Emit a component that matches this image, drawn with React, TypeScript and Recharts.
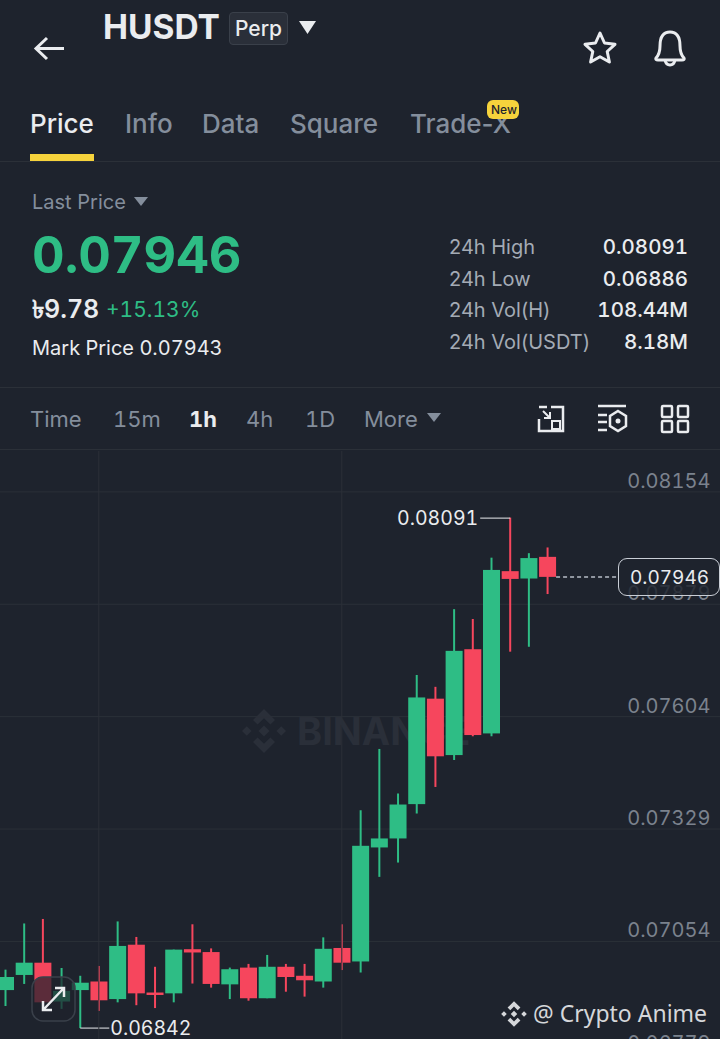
import React from "react";
import { ComposedChart, Bar, XAxis, YAxis, CartesianGrid, ReferenceLine } from "recharts";

const CANDLES = ["c0","c1","c2","c3","c4","c5","c6","c7","c8","c9","c10","c11","c12","c13","c14","c15","c16","c17","c18","c19","c20","c21","c22","c23","c24","c25","c26","c27","c28","c29"];
// empty slots to the right of the last candle
const EMPTY_SLOTS = ["e0","e1","e2","e3","e4","e5","e6","e7","e8"];

const OPENS = [0.06935,0.06972,0.07002,0.06907,0.06935,0.06956,0.06913,0.07046,0.06929,0.06927,0.07035,0.07028,0.06949,0.0699,0.06915,0.06992,0.0697,0.06956,0.07038,0.07005,0.07284,0.07306,0.0739,0.07648,0.0751,0.07769,0.07563,0.0796,0.07942,0.07995];
const CLOSES = [0.06967,0.07002,0.06905,0.06933,0.06953,0.0691,0.07043,0.06927,0.06923,0.07034,0.07027,0.0695,0.06986,0.06915,0.06992,0.06967,0.06959,0.07036,0.07002,0.07288,0.07306,0.07389,0.07651,0.07507,0.07765,0.07559,0.07963,0.07941,0.07992,0.07946];
const HIGHS = [0.06985,0.07098,0.07109,0.06989,0.0697,0.06994,0.07103,0.07065,0.06992,0.07034,0.07096,0.07037,0.0699,0.06999,0.07021,0.06999,0.06999,0.07064,0.07096,0.07375,0.07525,0.07416,0.07706,0.07677,0.07867,0.07843,0.07993,0.08091,0.08004,0.08018];
const LOWS = [0.06896,0.0695,0.06901,0.06889,0.06842,0.06884,0.06905,0.06898,0.06891,0.06905,0.06951,0.06941,0.06913,0.06909,0.06915,0.06931,0.06919,0.06941,0.06984,0.06978,0.07212,0.07247,0.07367,0.07432,0.07498,0.07556,0.07556,0.07763,0.07775,0.07904];

const PRICE_TICKS = [0.08154, 0.07879, 0.07604, 0.07329, 0.07054, 0.06779];
const PRICE_DOMAIN = [0.06737, 0.08254];
const LAST_PRICE = 0.07946;
const VERTICAL_LINES = ["c5", "c18"];

const TABS = [["Price", 30], ["Info", 125], ["Data", 202], ["Square", 290], ["Trade-X", 410]];
const INTERVALS = [["Time", 30], ["15m", 113], ["1h", 189], ["4h", 246], ["1D", 305], ["More", 364]];
const STATS = [["24h High", "0.08091", 247], ["24h Low", "0.06886", 279], ["24h Vol(H)", "108.44M", 310], ["24h Vol(USDT)", "8.18M", 342]];

const rows = [
  ...CANDLES.map((t, i) => ({ t, open: OPENS[i], close: CLOSES[i], high: HIGHS[i], low: LOWS[i] })),
  ...EMPTY_SLOTS.map((t) => ({ t })),
];

const BG = "#1e232d";
const GREEN = "#2ebd85";
const RED = "#f6465d";
const GREY = "#848e9c";
const WHITE = "#eaecef";
const GRID = "#2b3038";
const FONT = "Inter, sans-serif";

function Candle(props: any) {
  const { x, y, width, height, payload } = props;
  if (!payload || payload.high === undefined) return null;
  const { open, close, high, low } = payload;
  const color = close >= open ? GREEN : RED;
  const h = Math.abs(height);
  const perUnit = h / (high - low);
  const top = y + (high - Math.max(open, close)) * perUnit;
  const bottom = y + (high - Math.min(open, close)) * perUnit;
  const cx = x + width / 2;
  const isMax = high === Math.max(...HIGHS);
  const isMin = low === Math.min(...LOWS);
  const isLast = payload.t === CANDLES[CANDLES.length - 1];
  return (
    <g>
      <line x1={cx} x2={cx} y1={y} y2={y + h} stroke={color} strokeWidth={2} />
      <rect x={x} y={top} width={width} height={Math.max(bottom - top, 2)} fill={color} />
      {isMax && (
        <g>
          <line x1={cx - 30} x2={cx} y1={y + 0.5} y2={y + 0.5} stroke={WHITE} strokeWidth={1} />
          <text x={cx - 32} y={y + 7} textAnchor="end" fill={WHITE} fontSize={19.5} fontFamily={FONT} style={{ fontVariantNumeric: "tabular-nums" }}>{high.toFixed(5)}</text>
        </g>
      )}
      {isMin && (
        <g>
          <line x1={cx} x2={cx + 29} y1={y + h} y2={y + h} stroke={WHITE} strokeWidth={1} />
          <text x={cx + 30} y={y + h + 7} fill={WHITE} fontSize={19.5} fontFamily={FONT} style={{ fontVariantNumeric: "tabular-nums" }}>{low.toFixed(5)}</text>
        </g>
      )}
      {isLast && (
        <line x1={x + width} x2={622} y1={bottom} y2={bottom} stroke="#b7bdc6" strokeWidth={1.5} strokeDasharray="4 3" />
      )}
    </g>
  );
}

function PriceTick(props: any) {
  const { y, payload } = props;
  return (
    <text x={714.4} y={y - 4} textAnchor="end" fill="#7b828d" fontSize={20} fontFamily={FONT} style={{ fontVariantNumeric: "tabular-nums" }}>
      {payload.value.toFixed(5)}
    </text>
  );
}

function T({ x, y, right, size, color, weight, num, children }: any) {
  const style: React.CSSProperties = {
    position: "absolute",
    top: y,
    transform: "translateY(-50%)",
    fontSize: size,
    color,
    fontWeight: weight || 400,
    whiteSpace: "nowrap",
    lineHeight: 1,
    fontVariantNumeric: num ? "tabular-nums" : "normal",
  };
  if (right !== undefined) style.right = 720 - right;
  else style.left = x;
  return <span style={style}>{children}</span>;
}

function Icon({ x, y, w, h, children }: any) {
  return (
    <svg width={w} height={h} viewBox={`0 0 ${w} ${h}`} style={{ position: "absolute", left: x, top: y }}>
      {children}
    </svg>
  );
}

function Logo({ x, y, size, color }: any) {
  // the diamond mark, drawn on a 24 unit box
  return (
    <Icon x={x} y={y} w={size} h={size}>
      <g transform={`scale(${size / 24})`} fill={color}>
        <path d="M12 1 L17.5 6.5 L15.2 8.8 L12 5.6 L8.8 8.8 L6.5 6.5 Z" />
        <path d="M12 23 L17.5 17.5 L15.2 15.2 L12 18.4 L8.8 15.2 L6.5 17.5 Z" />
        <path d="M1 12 L3.4 9.6 L5.8 12 L3.4 14.4 Z" />
        <path d="M18.2 12 L20.6 9.6 L23 12 L20.6 14.4 Z" />
        <path d="M12 9.2 L14.8 12 L12 14.8 L9.2 12 Z" />
      </g>
    </Icon>
  );
}

function Header() {
  return (
    <>
      <Icon x={30} y={32} w={40} h={32}>
        <path d="M34 16.5 H7 M17 6 L6 16.5 L17 27" fill="none" stroke={WHITE} strokeWidth={3} />
      </Icon>
      <T x={103} y={28} size={33.5} color={WHITE} weight={700}>HUSDT</T>
      <div style={{ position: "absolute", left: 229, top: 12, width: 57, height: 31, background: "#2a2f39", border: "1px solid #3a404a", borderRadius: 4 }} />
      <T x={235} y={28} size={21} color={WHITE} weight={500}>Perp</T>
      <Icon x={298} y={20} w={20} h={16}>
        <path d="M1 1 H18 L9.5 14 Z" fill={WHITE} />
      </Icon>
      <Icon x={582} y={30} w={36} h={36}>
        <path d="M18 3 L22.5 13 L33 14.3 L25.2 21.5 L27.4 32 L18 26.7 L8.6 32 L10.8 21.5 L3 14.3 L13.5 13 Z" fill="none" stroke={WHITE} strokeWidth={3} strokeLinejoin="round" />
      </Icon>
      <Icon x={652} y={28} w={36} h={40}>
        <path d="M4 30 Q8 26 8 18 Q8 4 18 4 Q28 4 28 18 Q28 26 32 30 Q33 32 30 32 H6 Q3 32 4 30 Z" fill="none" stroke={WHITE} strokeWidth={3} strokeLinejoin="round" />
        <path d="M13 32 Q14 37 18 37 Q22 37 23 32" fill="none" stroke={WHITE} strokeWidth={3} />
      </Icon>

      {TABS.map(([label, x], i) => (
        <T key={label} x={x} y={124} size={26} color={i === 0 ? WHITE : GREY} weight={500}>{label}</T>
      ))}
      <div style={{ position: "absolute", left: 30, top: 154, width: 64, height: 7, background: "#f6d33c" }} />
      <div style={{ position: "absolute", left: 0, top: 161, width: 720, height: 1, background: GRID }} />
      <div style={{ position: "absolute", left: 487, top: 100, width: 32, height: 19, background: "#f6d33c", borderRadius: 6 }} />
      <T x={491} y={110} size={12} color="#1e232d" weight={500}>New</T>

      <T x={32} y={202} size={20} color={GREY}>Last Price</T>
      <Icon x={133} y={196} w={16} h={12}>
        <path d="M1 1 H15 L8 10 Z" fill={GREY} />
      </Icon>
      <T x={32} y={255} size={50.5} color={GREEN} weight={700} num>0.07946</T>
      <T x={32} y={309} size={25} color={WHITE} weight={600} num>৳9.78</T>
      <T x={106} y={309} size={21} color={GREEN} num>+15.13%</T>
      <T x={32} y={348} size={20} color={WHITE} num>Mark Price 0.07943</T>
      {STATS.map(([label, value, y]) => (
        <React.Fragment key={label}>
          <T x={449} y={y} size={20} color="#a4abb5">{label}</T>
          <T right={688} y={y} size={20.5} color={WHITE} weight={500} num>{value}</T>
        </React.Fragment>
      ))}

      <div style={{ position: "absolute", left: 0, top: 387, width: 720, height: 1, background: GRID }} />
      {INTERVALS.map(([label, x], i) => (
        <T key={label} x={x} y={419} size={22} color={i === 2 ? WHITE : GREY} weight={i === 2 ? 700 : 400} num>{label}</T>
      ))}
      <Icon x={426} y={412} w={16} h={12}>
        <path d="M1 1 H15 L8 10 Z" fill={GREY} />
      </Icon>
      <Icon x={536} y={404} w={30} h={30}>
        <path d="M15 3 H27 V27 H3 V15" fill="none" stroke={WHITE} strokeWidth={2.5} />
        <path d="M3 3 H11" stroke={WHITE} strokeWidth={2.5} />
        <path d="M7 7 L14 14 M14 8 V14 H8" fill="none" stroke={WHITE} strokeWidth={2} />
        <rect x={16} y={17} width={8} height={8} fill="none" stroke={WHITE} strokeWidth={2} />
      </Icon>
      <Icon x={596} y={403} w={34} h={32}>
        <path d="M2 3 H30 M2 12 H11 M2 19 H11 M2 27 H11" stroke={WHITE} strokeWidth={2.5} />
        <path d="M22 8 L30 13 V23 L22 28 L14 23 V13 Z" fill="none" stroke={WHITE} strokeWidth={2.5} />
        <circle cx={22} cy={18} r={2.5} fill={WHITE} />
      </Icon>
      <Icon x={660} y={404} w={30} h={30}>
        <rect x={2} y={2} width={10} height={11} rx={1} fill="none" stroke={WHITE} strokeWidth={2.5} />
        <rect x={18} y={2} width={10} height={11} rx={1} fill="none" stroke={WHITE} strokeWidth={2.5} />
        <rect x={2} y={17} width={10} height={11} rx={1} fill="none" stroke={WHITE} strokeWidth={2.5} />
        <rect x={18} y={17} width={10} height={11} rx={1} fill="none" stroke={WHITE} strokeWidth={2.5} />
      </Icon>
      <div style={{ position: "absolute", left: 0, top: 449, width: 720, height: 1, background: GRID }} />
    </>
  );
}

export default function App() {
  return (
    <div style={{ position: "absolute", left: 0, top: 0, width: 720, height: 1039, overflow: "hidden", background: BG, fontFamily: FONT }}>
      <Header />

      {/* watermark sits behind the candles */}
      <Logo x={240} y={707} size={48} color="#2a2f39" />
      <T x={297} y={731} size={38} color="#2a2f39" weight={700}>BINANCE</T>

      <div style={{ position: "absolute", left: -4.4, top: 450.6 }}>
        <ComposedChart width={729} height={620} data={rows} margin={{ top: 0, right: 0, bottom: 0, left: 0 }} barCategoryGap={0}>
          <CartesianGrid vertical={false} stroke={GRID} horizontalValues={PRICE_TICKS} />
          {VERTICAL_LINES.map((c) => (
            <ReferenceLine key={c} x={c} stroke={GRID} />
          ))}
          <XAxis dataKey="t" hide />
          <YAxis
            orientation="right"
            mirror
            width={80}
            domain={PRICE_DOMAIN}
            ticks={PRICE_TICKS}
            allowDataOverflow
            axisLine={false}
            tickLine={false}
            tick={<PriceTick />}
          />
          <Bar
            dataKey={(d: any) => (d.high === undefined ? null : [d.low, d.high])}
            barSize={17}
            isAnimationActive={false}
            shape={(p: any) => <Candle {...p} />}
          />
        </ComposedChart>
      </div>

      {/* last price tag */}
      <div style={{ position: "absolute", left: 618, top: 558, width: 100, height: 36, border: "1.5px solid #c9ced6", borderRadius: 9, background: "rgba(30,35,45,0.82)" }} />
      <T x={630} y={577} size={19} color={WHITE} num>{LAST_PRICE.toFixed(5)}</T>

      {/* expand button */}
      <Icon x={31} y={976} w={46} h={46}>
        <rect x={1} y={1} width={43} height={44} rx={11} fill="rgba(30,35,45,0.72)" stroke="#3a404a" strokeWidth={1.5} />
        <path d="M13 33 L32 13 M24 12 H33 V21 M12 25 V34 H21" fill="none" stroke={WHITE} strokeWidth={2.5} />
      </Icon>

      {/* screenshot credit */}
      <Logo x={500} y={1000} size={28} color="#d5d7da" />
      <span style={{ position: "absolute", left: 533, top: 1013, transform: "translateY(-50%)", fontFamily: "'Noto Sans', sans-serif", fontSize: 23, color: "#d5d7da", whiteSpace: "nowrap", lineHeight: 1 }}>
        @ Crypto Anime
      </span>
    </div>
  );
}
